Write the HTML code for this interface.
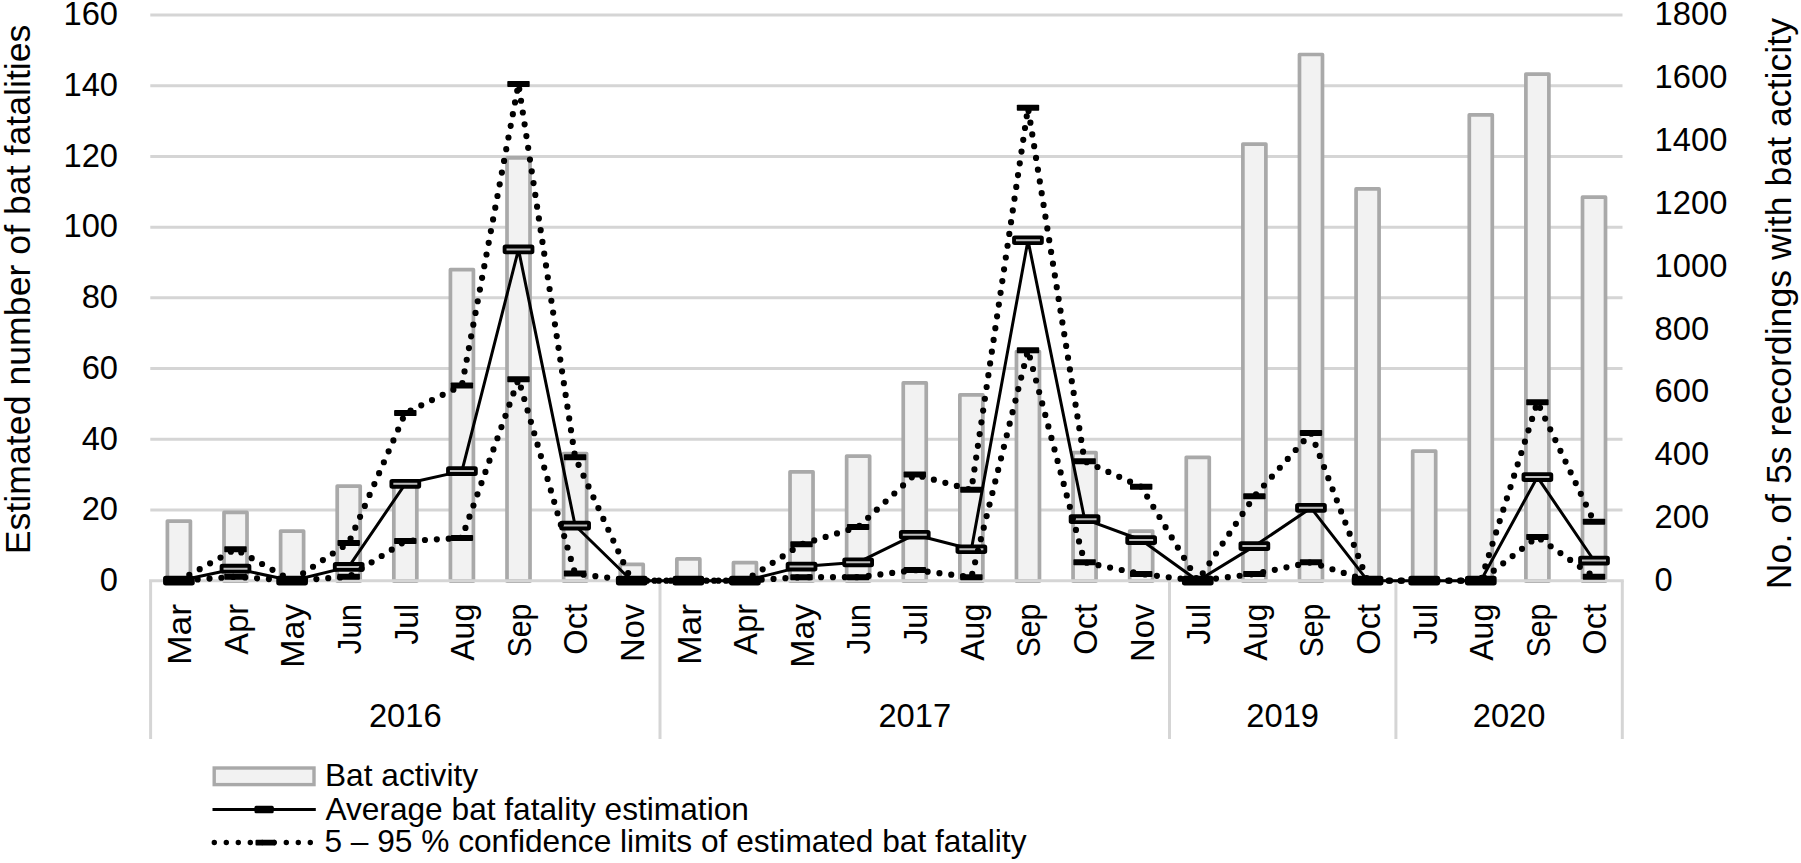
<!DOCTYPE html>
<html lang="en"><head><meta charset="utf-8"><title>Bat fatalities and bat activity</title>
<style>html,body{margin:0;padding:0;background:#fff}body{width:1801px;height:863px;overflow:hidden}svg{display:block}text{font-family:'Liberation Sans', sans-serif;fill:#000}</style>
</head><body>
<svg width="1801" height="863" viewBox="0 0 1801 863">
<rect x="0" y="0" width="1801" height="863" fill="#fff"/>
<g stroke="#d5d5d5" stroke-width="3" fill="none">
<line x1="150.3" y1="509.99" x2="1622.5" y2="509.99"/>
<line x1="150.3" y1="439.28" x2="1622.5" y2="439.28"/>
<line x1="150.3" y1="368.57" x2="1622.5" y2="368.57"/>
<line x1="150.3" y1="297.86" x2="1622.5" y2="297.86"/>
<line x1="150.3" y1="227.15" x2="1622.5" y2="227.15"/>
<line x1="150.3" y1="156.44" x2="1622.5" y2="156.44"/>
<line x1="150.3" y1="85.73" x2="1622.5" y2="85.73"/>
<line x1="150.3" y1="15.02" x2="1622.5" y2="15.02"/>
</g>
<g fill="#f2f2f2" stroke="#a9a9a9" stroke-width="3.7" stroke-linejoin="round">
<rect x="167.40" y="521.1" width="23.0" height="60.0"/>
<rect x="224.01" y="512.4" width="23.0" height="68.7"/>
<rect x="280.61" y="531.1" width="23.0" height="50.0"/>
<rect x="337.21" y="486.1" width="23.0" height="95.0"/>
<rect x="393.82" y="483.5" width="23.0" height="97.6"/>
<rect x="450.42" y="269.7" width="23.0" height="311.4"/>
<rect x="507.02" y="157.8" width="23.0" height="423.3"/>
<rect x="563.63" y="453.5" width="23.0" height="127.6"/>
<rect x="620.23" y="564.4" width="23.0" height="16.7"/>
<rect x="676.84" y="558.9" width="23.0" height="22.2"/>
<rect x="733.44" y="562.7" width="23.0" height="18.4"/>
<rect x="790.04" y="471.8" width="23.0" height="109.3"/>
<rect x="846.65" y="456.1" width="23.0" height="125.0"/>
<rect x="903.25" y="382.9" width="23.0" height="198.2"/>
<rect x="959.86" y="394.8" width="23.0" height="186.3"/>
<rect x="1016.46" y="351.5" width="23.0" height="229.6"/>
<rect x="1073.06" y="452.6" width="23.0" height="128.5"/>
<rect x="1129.67" y="531.1" width="23.0" height="50.0"/>
<rect x="1186.27" y="457.3" width="23.0" height="123.8"/>
<rect x="1242.88" y="144.1" width="23.0" height="437.0"/>
<rect x="1299.48" y="54.5" width="23.0" height="526.6"/>
<rect x="1356.08" y="188.9" width="23.0" height="392.2"/>
<rect x="1412.69" y="451.1" width="23.0" height="130.0"/>
<rect x="1469.29" y="114.8" width="23.0" height="466.3"/>
<rect x="1525.89" y="74.1" width="23.0" height="507.0"/>
<rect x="1582.50" y="197.2" width="23.0" height="383.9"/>
</g>
<g stroke="#d5d5d5" stroke-width="3" fill="none">
<line x1="149.1" y1="580.70" x2="1623.8" y2="580.70"/>
<line x1="150.6" y1="580.7" x2="150.6" y2="739"/>
<line x1="660.0" y1="580.7" x2="660.0" y2="739"/>
<line x1="1169.5" y1="580.7" x2="1169.5" y2="739"/>
<line x1="1395.9" y1="580.7" x2="1395.9" y2="739"/>
<line x1="1622.3" y1="580.7" x2="1622.3" y2="739"/>
</g>
<polyline points="178.9,580.7 235.5,568.7 292.1,580.7 348.7,566.9 405.3,483.8 461.9,471.1 518.5,249.4 575.1,525.5 631.7,580.7 688.3,580.7 744.9,580.7 801.5,566.6 858.1,562.3 914.8,534.7 971.4,549.2 1028.0,240.2 1084.6,519.2 1141.2,540.0 1197.8,580.7 1254.4,546.1 1311.0,507.9 1367.6,580.7 1424.2,580.7 1480.8,580.7 1537.4,477.1 1594.0,560.5" fill="none" stroke="#000" stroke-width="3" stroke-linejoin="round"/>
<g fill="#bdbdbd" stroke="#000" stroke-width="3.85" stroke-linejoin="round">
<rect x="164.98" y="577.78" width="27.85" height="5.85" rx="0.8" fill="#000"/>
<rect x="221.58" y="565.75" width="27.85" height="5.85" rx="0.8"/>
<rect x="278.18" y="577.78" width="27.85" height="5.85" rx="0.8" fill="#000"/>
<rect x="334.79" y="563.99" width="27.85" height="5.85" rx="0.8"/>
<rect x="391.39" y="480.90" width="27.85" height="5.85" rx="0.8"/>
<rect x="448.00" y="468.17" width="27.85" height="5.85" rx="0.8"/>
<rect x="504.60" y="246.50" width="27.85" height="5.85" rx="0.8"/>
<rect x="561.20" y="522.62" width="27.85" height="5.85" rx="0.8"/>
<rect x="617.81" y="577.78" width="27.85" height="5.85" rx="0.8" fill="#000"/>
<rect x="674.41" y="577.78" width="27.85" height="5.85" rx="0.8" fill="#000"/>
<rect x="731.02" y="577.78" width="27.85" height="5.85" rx="0.8" fill="#000"/>
<rect x="787.62" y="563.63" width="27.85" height="5.85" rx="0.8"/>
<rect x="844.22" y="559.39" width="27.85" height="5.85" rx="0.8"/>
<rect x="900.83" y="531.81" width="27.85" height="5.85" rx="0.8"/>
<rect x="957.43" y="546.31" width="27.85" height="5.85" rx="0.8"/>
<rect x="1014.03" y="237.31" width="27.85" height="5.85" rx="0.8"/>
<rect x="1070.64" y="516.26" width="27.85" height="5.85" rx="0.8"/>
<rect x="1127.24" y="537.12" width="27.85" height="5.85" rx="0.8"/>
<rect x="1183.85" y="577.78" width="27.85" height="5.85" rx="0.8" fill="#000"/>
<rect x="1240.45" y="543.13" width="27.85" height="5.85" rx="0.8"/>
<rect x="1297.05" y="504.94" width="27.85" height="5.85" rx="0.8"/>
<rect x="1353.66" y="577.78" width="27.85" height="5.85" rx="0.8" fill="#000"/>
<rect x="1410.26" y="577.78" width="27.85" height="5.85" rx="0.8" fill="#000"/>
<rect x="1466.87" y="577.78" width="27.85" height="5.85" rx="0.8" fill="#000"/>
<rect x="1523.47" y="474.18" width="27.85" height="5.85" rx="0.8"/>
<rect x="1580.07" y="557.62" width="27.85" height="5.85" rx="0.8"/>
</g>
<polyline points="178.9,580.7 235.5,549.2 292.1,580.7 348.7,542.9 405.3,413.1 461.9,385.5 518.5,84.0 575.1,457.3 631.7,580.7 688.3,580.7 744.9,580.7 801.5,544.3 858.1,527.0 914.8,474.6 971.4,489.8 1028.0,107.7 1084.6,461.2 1141.2,486.7 1197.8,580.7 1254.4,496.2 1311.0,432.9 1367.6,580.7 1424.2,580.7 1480.8,580.7 1537.4,402.2 1594.0,521.7" fill="none" stroke="#000" stroke-width="6.2" stroke-linecap="round" stroke-linejoin="round" stroke-dasharray="0 11.9" stroke-dashoffset="0"/>
<polyline points="178.9,580.7 235.5,576.8 292.1,580.7 348.7,576.8 405.3,541.1 461.9,537.9 518.5,379.2 575.1,573.6 631.7,580.7 688.3,580.7 744.9,580.7 801.5,577.2 858.1,577.2 914.8,570.1 971.4,577.2 1028.0,350.2 1084.6,562.3 1141.2,574.0 1197.8,580.7 1254.4,574.0 1311.0,562.3 1367.6,580.7 1424.2,580.7 1480.8,580.7 1537.4,536.9 1594.0,576.8" fill="none" stroke="#000" stroke-width="6.2" stroke-linecap="round" stroke-linejoin="round" stroke-dasharray="0 11.9" stroke-dashoffset="5"/>
<g fill="#000">
<rect x="167.7" y="577.7" width="22.4" height="6" rx="0.8"/>
<rect x="224.3" y="546.2" width="22.4" height="6" rx="0.8"/>
<rect x="280.9" y="577.7" width="22.4" height="6" rx="0.8"/>
<rect x="337.5" y="539.9" width="22.4" height="6" rx="0.8"/>
<rect x="394.1" y="410.1" width="22.4" height="6" rx="0.8"/>
<rect x="450.7" y="382.5" width="22.4" height="6" rx="0.8"/>
<rect x="507.3" y="81.0" width="22.4" height="6" rx="0.8"/>
<rect x="563.9" y="454.3" width="22.4" height="6" rx="0.8"/>
<rect x="620.5" y="577.7" width="22.4" height="6" rx="0.8"/>
<rect x="677.1" y="577.7" width="22.4" height="6" rx="0.8"/>
<rect x="733.7" y="577.7" width="22.4" height="6" rx="0.8"/>
<rect x="790.3" y="541.3" width="22.4" height="6" rx="0.8"/>
<rect x="846.9" y="524.0" width="22.4" height="6" rx="0.8"/>
<rect x="903.6" y="471.6" width="22.4" height="6" rx="0.8"/>
<rect x="960.2" y="486.8" width="22.4" height="6" rx="0.8"/>
<rect x="1016.8" y="104.7" width="22.4" height="6" rx="0.8"/>
<rect x="1073.4" y="458.2" width="22.4" height="6" rx="0.8"/>
<rect x="1130.0" y="483.7" width="22.4" height="6" rx="0.8"/>
<rect x="1186.6" y="577.7" width="22.4" height="6" rx="0.8"/>
<rect x="1243.2" y="493.2" width="22.4" height="6" rx="0.8"/>
<rect x="1299.8" y="429.9" width="22.4" height="6" rx="0.8"/>
<rect x="1356.4" y="577.7" width="22.4" height="6" rx="0.8"/>
<rect x="1413.0" y="577.7" width="22.4" height="6" rx="0.8"/>
<rect x="1469.6" y="577.7" width="22.4" height="6" rx="0.8"/>
<rect x="1526.2" y="399.2" width="22.4" height="6" rx="0.8"/>
<rect x="1582.8" y="518.7" width="22.4" height="6" rx="0.8"/>
<rect x="167.7" y="577.7" width="22.4" height="6" rx="0.8"/>
<rect x="224.3" y="573.8" width="22.4" height="6" rx="0.8"/>
<rect x="280.9" y="577.7" width="22.4" height="6" rx="0.8"/>
<rect x="337.5" y="573.8" width="22.4" height="6" rx="0.8"/>
<rect x="394.1" y="538.1" width="22.4" height="6" rx="0.8"/>
<rect x="450.7" y="534.9" width="22.4" height="6" rx="0.8"/>
<rect x="507.3" y="376.2" width="22.4" height="6" rx="0.8"/>
<rect x="563.9" y="570.6" width="22.4" height="6" rx="0.8"/>
<rect x="620.5" y="577.7" width="22.4" height="6" rx="0.8"/>
<rect x="677.1" y="577.7" width="22.4" height="6" rx="0.8"/>
<rect x="733.7" y="577.7" width="22.4" height="6" rx="0.8"/>
<rect x="790.3" y="574.2" width="22.4" height="6" rx="0.8"/>
<rect x="846.9" y="574.2" width="22.4" height="6" rx="0.8"/>
<rect x="903.6" y="567.1" width="22.4" height="6" rx="0.8"/>
<rect x="960.2" y="574.2" width="22.4" height="6" rx="0.8"/>
<rect x="1016.8" y="347.2" width="22.4" height="6" rx="0.8"/>
<rect x="1073.4" y="559.3" width="22.4" height="6" rx="0.8"/>
<rect x="1130.0" y="571.0" width="22.4" height="6" rx="0.8"/>
<rect x="1186.6" y="577.7" width="22.4" height="6" rx="0.8"/>
<rect x="1243.2" y="571.0" width="22.4" height="6" rx="0.8"/>
<rect x="1299.8" y="559.3" width="22.4" height="6" rx="0.8"/>
<rect x="1356.4" y="577.7" width="22.4" height="6" rx="0.8"/>
<rect x="1413.0" y="577.7" width="22.4" height="6" rx="0.8"/>
<rect x="1469.6" y="577.7" width="22.4" height="6" rx="0.8"/>
<rect x="1526.2" y="533.9" width="22.4" height="6" rx="0.8"/>
<rect x="1582.8" y="573.8" width="22.4" height="6" rx="0.8"/>
</g>
<g font-size="32.7" text-anchor="end">
<text x="118" y="590.9">0</text>
<text x="118" y="520.2">20</text>
<text x="118" y="449.5">40</text>
<text x="118" y="378.8">60</text>
<text x="118" y="308.1">80</text>
<text x="118" y="237.4">100</text>
<text x="118" y="166.6">120</text>
<text x="118" y="95.9">140</text>
<text x="118" y="25.2">160</text>
</g>
<g font-size="32.7" text-anchor="start">
<text x="1654.6" y="590.9">0</text>
<text x="1654.6" y="528.0">200</text>
<text x="1654.6" y="465.2">400</text>
<text x="1654.6" y="402.3">600</text>
<text x="1654.6" y="339.5">800</text>
<text x="1654.6" y="276.6">1000</text>
<text x="1654.6" y="213.8">1200</text>
<text x="1654.6" y="150.9">1400</text>
<text x="1654.6" y="88.1">1600</text>
<text x="1654.6" y="25.2">1800</text>
</g>
<g font-size="32.7" text-anchor="end">
<text transform="translate(191.2 603.8) rotate(-90) scale(1.086 1)">Mar</text>
<text transform="translate(247.8 603.8) rotate(-90) scale(1.000 1)">Apr</text>
<text transform="translate(304.4 603.8) rotate(-90) scale(1.036 1)">May</text>
<text transform="translate(361.0 603.8) rotate(-90) scale(0.955 1)">Jun</text>
<text transform="translate(417.6 603.8) rotate(-90) scale(0.980 1)">Jul</text>
<text transform="translate(474.2 603.8) rotate(-90) scale(0.980 1)">Aug</text>
<text transform="translate(530.8 603.8) rotate(-90) scale(0.920 1)">Sep</text>
<text transform="translate(587.4 603.8) rotate(-90) scale(1.000 1)">Oct</text>
<text transform="translate(644.0 603.8) rotate(-90) scale(1.000 1)">Nov</text>
<text transform="translate(700.6 603.8) rotate(-90) scale(1.086 1)">Mar</text>
<text transform="translate(757.2 603.8) rotate(-90) scale(1.000 1)">Apr</text>
<text transform="translate(813.8 603.8) rotate(-90) scale(1.036 1)">May</text>
<text transform="translate(870.4 603.8) rotate(-90) scale(0.955 1)">Jun</text>
<text transform="translate(927.1 603.8) rotate(-90) scale(0.980 1)">Jul</text>
<text transform="translate(983.7 603.8) rotate(-90) scale(0.980 1)">Aug</text>
<text transform="translate(1040.3 603.8) rotate(-90) scale(0.920 1)">Sep</text>
<text transform="translate(1096.9 603.8) rotate(-90) scale(1.000 1)">Oct</text>
<text transform="translate(1153.5 603.8) rotate(-90) scale(1.000 1)">Nov</text>
<text transform="translate(1210.1 603.8) rotate(-90) scale(0.980 1)">Jul</text>
<text transform="translate(1266.7 603.8) rotate(-90) scale(0.980 1)">Aug</text>
<text transform="translate(1323.3 603.8) rotate(-90) scale(0.920 1)">Sep</text>
<text transform="translate(1379.9 603.8) rotate(-90) scale(1.000 1)">Oct</text>
<text transform="translate(1436.5 603.8) rotate(-90) scale(0.980 1)">Jul</text>
<text transform="translate(1493.1 603.8) rotate(-90) scale(0.980 1)">Aug</text>
<text transform="translate(1549.7 603.8) rotate(-90) scale(0.920 1)">Sep</text>
<text transform="translate(1606.3 603.8) rotate(-90) scale(1.000 1)">Oct</text>
</g>
<g font-size="32.7" text-anchor="middle">
<text x="405.3" y="727">2016</text>
<text x="914.8" y="727">2017</text>
<text x="1282.7" y="727">2019</text>
<text x="1509.1" y="727">2020</text>
</g>
<text font-size="35.7" transform="translate(30.2 554.2) rotate(-90)">Estimated number of bat fatalities</text>
<text font-size="35.7" transform="translate(1790.6 589.2) rotate(-90)">No. of 5s recordings with bat acticity</text>
<rect x="214.2" y="768" width="99.8" height="16.6" fill="#f2f2f2" stroke="#a9a9a9" stroke-width="3.4"/>
<line x1="212.5" y1="809.5" x2="315.8" y2="809.5" stroke="#000" stroke-width="3"/>
<rect x="254.5" y="805.8" width="19.2" height="7.5" rx="1.5" fill="#000"/>
<line x1="214.3" y1="842.5" x2="312" y2="842.5" stroke="#000" stroke-width="5.4" stroke-linecap="round" stroke-dasharray="0 12"/>
<rect x="255.5" y="839.8" width="20.3" height="5.6" rx="1" fill="#000"/>
<g font-size="31.67">
<text x="325.0" y="786">Bat activity</text>
<text x="325.4" y="819.8">Average bat fatality estimation</text>
<text x="324.4" y="852.4">5 – 95 % confidence limits of estimated bat fatality</text>
</g>
</svg>
</body></html>
